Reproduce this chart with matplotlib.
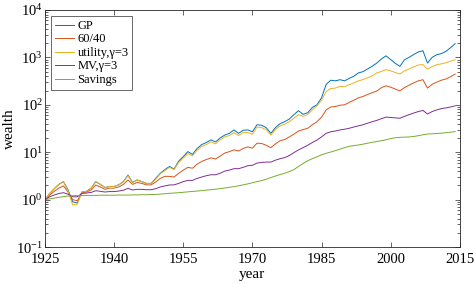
import matplotlib
matplotlib.use("Agg")
import matplotlib.pyplot as plt
from matplotlib.ticker import LogLocator, NullFormatter, FixedLocator

plt.rcParams['font.family'] = ['Liberation Serif', 'DejaVu Serif']
plt.rcParams['mathtext.fontset'] = 'stix'

years = list(range(1925, 2015))

gp = [1.0, 1.35, 1.7, 2.1, 2.4, 1.6, 0.9, 0.85, 1.45, 1.5,
      1.75, 2.4, 2.1, 1.8, 1.9, 1.9, 2.05, 2.4, 3.3, 2.3,
      2.6, 2.4, 2.2, 2.2, 2.8, 3.6, 4.3, 5.0, 4.4, 6.5,
      8.1, 10.3, 9.0, 12, 14.5, 16, 18.2, 16.5, 20, 23,
      25, 29.5, 25, 29, 29.5, 27, 38, 37, 33, 25,
      33, 40, 44, 50, 62, 75, 63, 68, 88, 100,
      140, 270, 330, 320, 338, 320, 360, 400, 470, 500,
      570, 650, 760, 925, 1080, 900, 750, 645, 890, 1000,
      1150, 1300, 1380, 760, 1000, 1140, 1200, 1340, 1600, 1950]

sixty40 = [1.0, 1.25, 1.5, 1.75, 1.95, 1.45, 1.0, 0.95, 1.4, 1.45,
           1.6, 2.03, 1.85, 1.65, 1.75, 1.75, 1.85, 2.1, 2.6, 2.1,
           2.3, 2.2, 2.05, 2.05, 2.35, 2.8, 3.1, 3.1, 3.0, 3.6,
           4.2, 4.8, 4.6, 5.6, 6.4, 7.0, 7.6, 7.2, 8.3, 9.6,
           10.3, 11.2, 10.6, 12, 13, 12.2, 15.5, 15.3, 14, 12.5,
           15, 17.5, 18.5, 21, 24, 28, 30, 32, 38, 44,
           55, 78, 90, 92, 98, 100, 112, 125, 140, 150,
           165, 180, 195, 230, 252, 235, 215, 197, 230, 260,
           290, 320, 338, 225, 270, 300, 330, 350, 390, 445]

utility = [1.0, 1.35, 1.7, 2.1, 2.4, 1.5, 0.77, 0.8, 1.45, 1.5,
           1.75, 2.4, 2.1, 1.8, 1.9, 1.9, 2.05, 2.4, 3.2, 2.3,
           2.6, 2.4, 2.2, 2.2, 2.7, 3.5, 4.1, 4.8, 4.3, 6.1,
           7.5, 9.4, 8.4, 11, 13.2, 14.5, 16.5, 15, 18.3, 21,
           22.5, 26, 22.5, 26, 26, 24, 34, 33, 30, 23,
           30, 36, 39, 44, 52, 62, 57, 62, 78, 95,
           125, 190, 220, 225, 245, 240, 265, 290, 320, 340,
           370, 410, 470, 505, 550, 520, 480, 445, 520, 570,
           630, 690, 705, 565, 640, 700, 730, 770, 830, 890]

mv = [1.0, 1.15, 1.25, 1.35, 1.4, 1.3, 1.15, 1.15, 1.35, 1.38,
      1.42, 1.54, 1.5, 1.45, 1.48, 1.48, 1.52, 1.58, 1.73, 1.6,
      1.65, 1.65, 1.62, 1.62, 1.7, 1.85, 1.95, 2.04, 2.05, 2.2,
      2.4, 2.55, 2.55, 2.8, 3.0, 3.2, 3.35, 3.35, 3.6, 4.0,
      4.2, 4.5, 4.5, 4.8, 5.2, 5.3, 5.9, 6.1, 6.2, 6.2,
      6.8, 7.3, 7.7, 8.5, 9.8, 11.2, 12.5, 14, 16, 18,
      21, 25, 27, 28, 29.5, 30.5, 32, 34, 36, 38,
      41, 44, 47, 51, 55, 54, 53, 52, 57, 62,
      67, 72, 76, 64, 72, 78, 83, 86, 90, 95]

savings = [1.0, 1.04, 1.08, 1.12, 1.16, 1.19, 1.21, 1.22, 1.22, 1.23,
           1.23, 1.23, 1.24, 1.24, 1.24, 1.24, 1.25, 1.25, 1.25, 1.26,
           1.26, 1.27, 1.27, 1.28, 1.29, 1.31, 1.33, 1.36, 1.38, 1.40,
           1.43, 1.46, 1.49, 1.52, 1.55, 1.59, 1.62, 1.66, 1.71, 1.76,
           1.82, 1.88, 1.96, 2.05, 2.15, 2.27, 2.40, 2.52, 2.70, 2.92,
           3.15, 3.38, 3.6, 3.9, 4.3, 5.0, 5.8, 6.6, 7.3, 8.0,
           8.8, 9.5, 10.1, 10.8, 11.6, 12.5, 13.3, 13.8, 14.2, 14.8,
           15.5, 16.2, 16.8, 17.5, 18.3, 19.4, 20.2, 20.6, 20.8, 21.0,
           21.5, 22.3, 23.3, 24.2, 24.5, 24.8, 25.2, 25.8, 26.5, 27.3]

labels = ['GP', '60/40', 'utility,γ=3', 'MV,γ=3', 'Savings']
colors = ['#0072BD', '#D95319', '#EDB120', '#7E2F8E', '#77AC30']
series = [gp, sixty40, utility, mv, savings]
xticks = [1925, 1940, 1955, 1970, 1985, 2000, 2015]

fig = plt.figure(figsize=(4.74, 2.84), dpi=100)
ax = fig.add_axes([0.095, 0.130, 0.875, 0.835])

for s, lab, c in zip(series, labels, colors):
    ax.plot(years, s, color=c, lw=0.7, label=lab)

ax.set_yscale('log')
ax.set_xlim(1925, 2015)
ax.set_ylim(0.1, 1e4)
ax.xaxis.set_major_locator(FixedLocator(xticks))
ax.yaxis.set_major_locator(LogLocator(base=10, numticks=10))
ax.yaxis.set_minor_locator(LogLocator(base=10, subs=range(2, 10), numticks=20))
ax.yaxis.set_minor_formatter(NullFormatter())
ax.tick_params(which='both', direction='in', top=True, right=True,
               labelsize=10.5, color='#262626')
ax.tick_params(axis='y', pad=1.5)
ax.tick_params(axis='x', pad=4.5)
ax.tick_params(which='major', length=3.5, width=0.5)
ax.tick_params(which='minor', length=2, width=0.5)
for sp in ax.spines.values():
    sp.set_linewidth(0.6)
    sp.set_color('#262626')

ax.set_xlabel('year', fontsize=11, labelpad=1)
ax.set_ylabel('wealth', fontsize=11, labelpad=0)

leg = ax.legend(loc='upper left', fontsize=9, frameon=True, fancybox=False,
                edgecolor='#262626', handlelength=1.5, handletextpad=0.3,
                labelspacing=0.12, borderpad=0.3, borderaxespad=0.5)
leg.get_frame().set_linewidth(0.6)

fig.savefig('out.png', dpi=100)
